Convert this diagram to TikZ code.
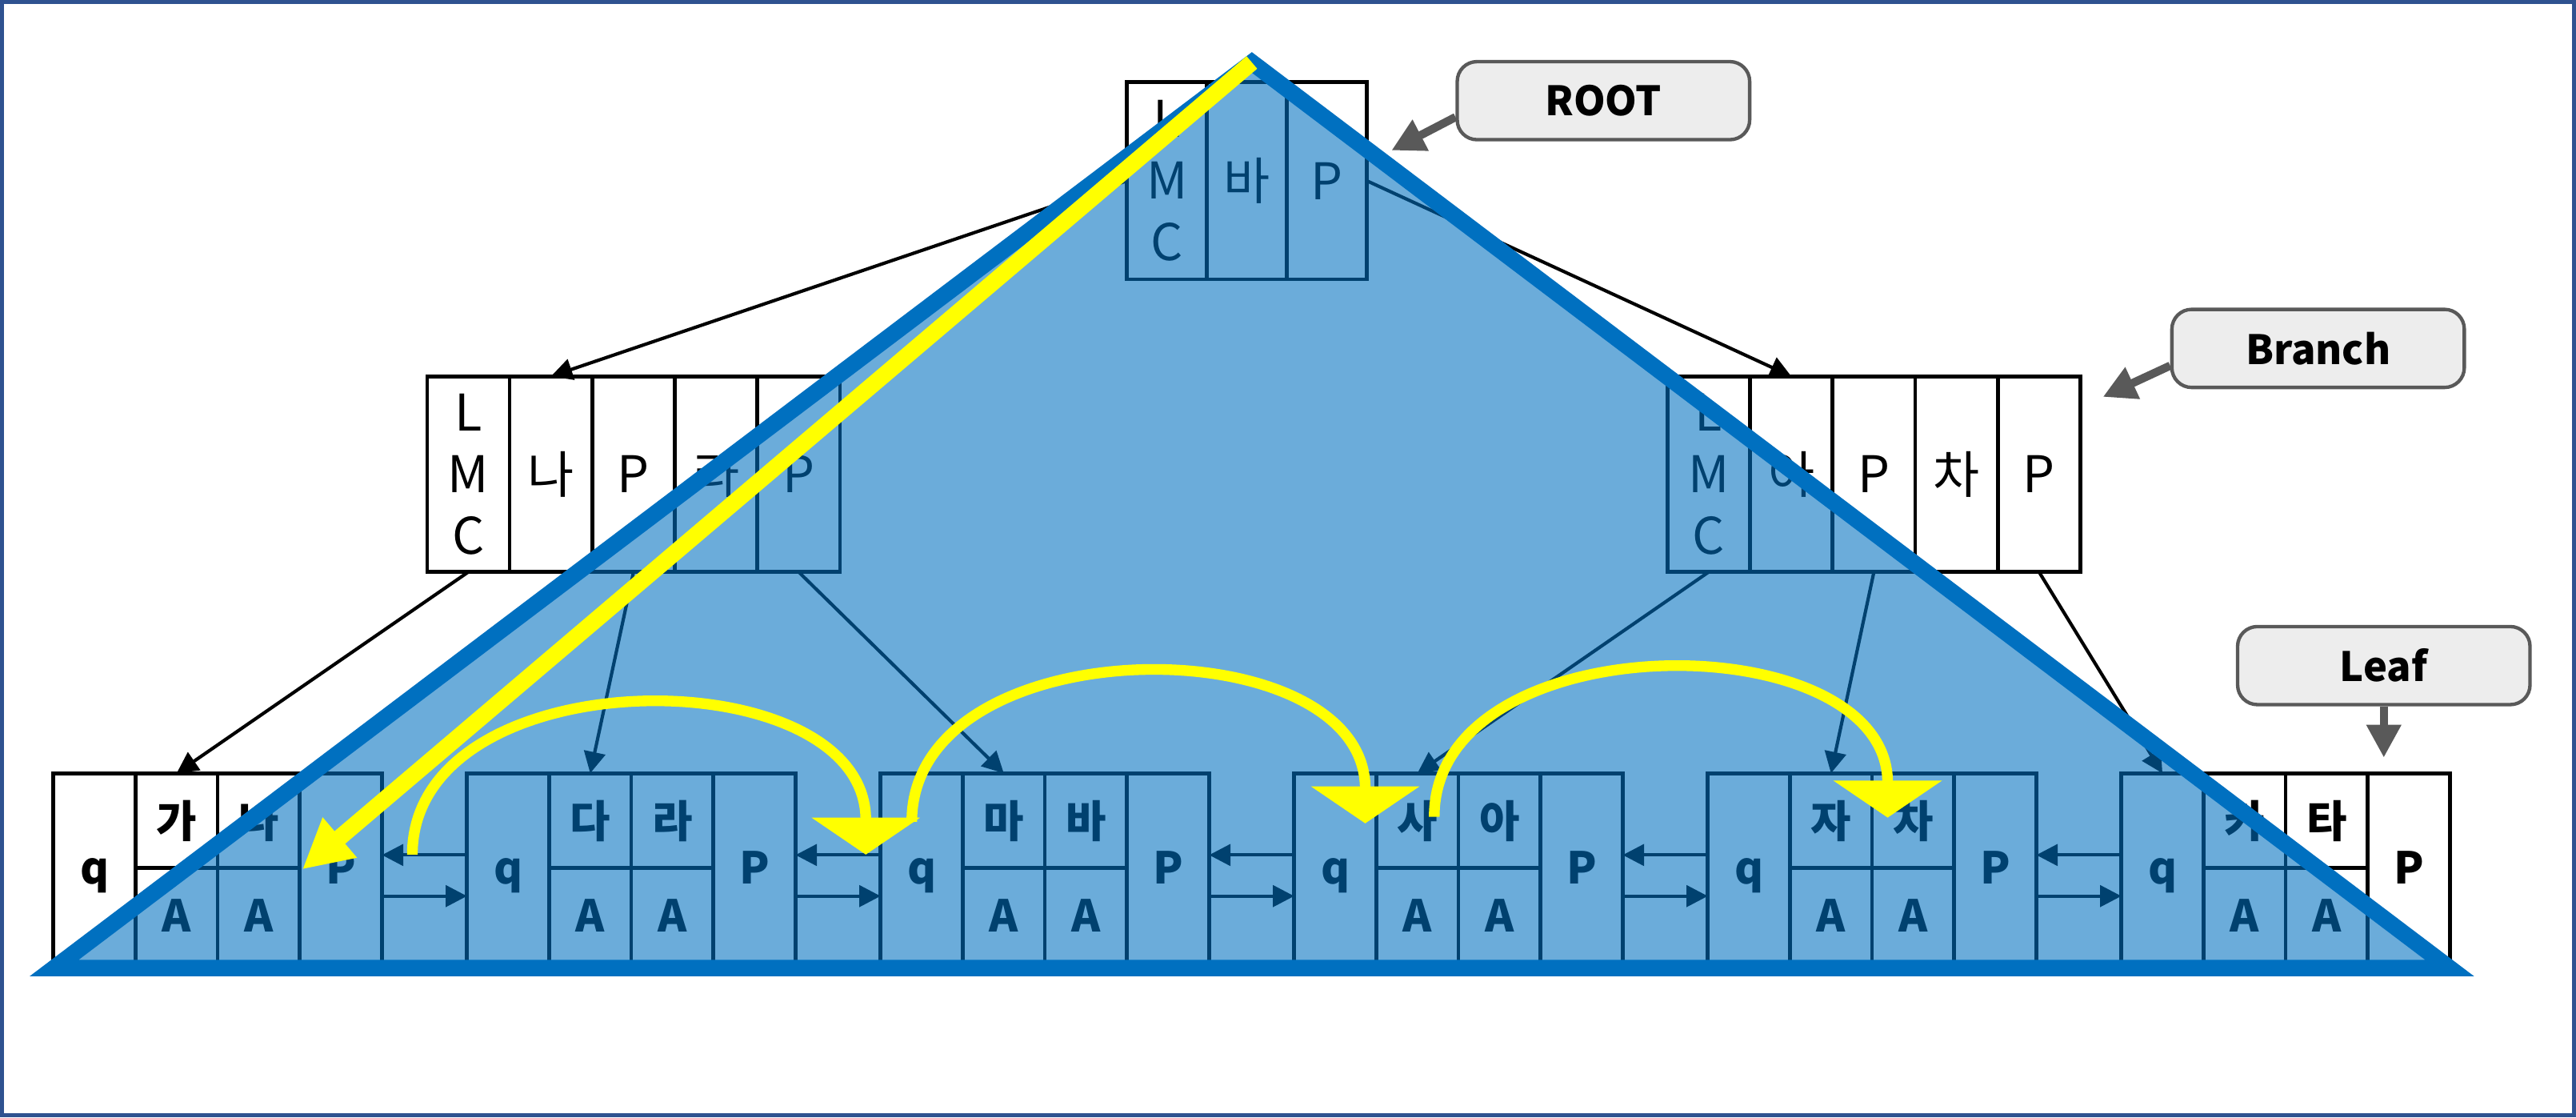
\documentclass[tikz,border=0pt]{standalone}
\usepackage{fontspec}
\setmainfont{Noto Sans CJK KR}
\usetikzlibrary{arrows.meta,positioning}
\definecolor{frameblue}{HTML}{2F5290}
\definecolor{treeblue}{HTML}{0070C0}
\definecolor{callgray}{HTML}{595959}
\definecolor{callfill}{HTML}{EDEDED}
\definecolor{hilite}{HTML}{FFFF00}

\begin{document}
\begin{tikzpicture}[
  cell/.style={draw=black,line width=1.3pt,outer sep=0pt,inner sep=0pt,minimum width=1.005cm,minimum height=2.38cm,align=center,font=\fontsize{17.5}{21.3}\selectfont},
  rootcell/.style={cell,minimum width=0.973cm,minimum height=2.4cm},
  leafbase/.style={draw=black,line width=1.3pt,outer sep=0pt,inner sep=0pt,minimum width=1cm,font=\fontsize{15.2}{17}\selectfont\bfseries},
  tallcell/.style={leafbase,minimum height=2.31cm,text height=0.39cm,text depth=0pt},
  halfcell/.style={leafbase,minimum height=1.155cm},
  link/.style={-{Triangle[width=0.26cm,length=0.26cm]},line width=1.15pt},
  callout/.style={draw=callgray,fill=callfill,line width=1.2pt,rounded corners=0.24cm,minimum width=3.56cm,minimum height=0.95cm,font=\fontsize{14}{16}\selectfont\bfseries},
  pointer/.style={-{Triangle[width=0.4cm,length=0.4cm]},line width=0.1cm,callgray},
  overlay/.style={draw=treeblue,fill=treeblue,fill opacity=0.58,line width=0.2cm},
  dive/.style={-{Triangle[width=0.6cm,length=0.6cm]},line width=0.2cm,hilite},
  scan/.style={-{Triangle[width=1.3cm,length=0.45cm]},line width=0.13cm,hilite}
]
\useasboundingbox (0,0) rectangle (31.36,-13.6);
\draw[frameblue,line width=0.05cm] (0.025,-0.025) rectangle (31.335,-13.575);

\node[rootcell,anchor=north west] (rootLMC) at (13.72,-1.0) {L\\M\\C};
\node[rootcell,right=0pt of rootLMC] (rootKey) {바};
\node[rootcell,right=0pt of rootKey] (rootP) {P};

\node[cell,anchor=north west] (lbLMC) at (5.2,-4.58) {L\\M\\C};
\node[cell,right=0pt of lbLMC] (lbK1) {나};
\node[cell,right=0pt of lbK1] (lbP1) {P};
\node[cell,right=0pt of lbP1] (lbK2) {라};
\node[cell,right=0pt of lbK2] (lbP2) {P};

\node[cell,anchor=north west] (rbLMC) at (20.3,-4.58) {L\\M\\C};
\node[cell,right=0pt of rbLMC] (rbK1) {아};
\node[cell,right=0pt of rbK1] (rbP1) {P};
\node[cell,right=0pt of rbP1] (rbK2) {차};
\node[cell,right=0pt of rbK2] (rbP2) {P};

\foreach \i/\ka/\kb in {1/가/나,2/다/라,3/마/바,4/사/아,5/자/차,6/카/타}{
  \node[tallcell,anchor=north west] (q\i) at ({0.65+(\i-1)*5.035},-9.41) {q};
  \node[halfcell,anchor=north west] (ka\i) at (q\i.north east) {\ka};
  \node[halfcell,below=0pt of ka\i] (aa\i) {A};
  \node[halfcell,right=0pt of ka\i] (kb\i) {\kb};
  \node[halfcell,below=0pt of kb\i] (ab\i) {A};
  \node[tallcell,anchor=north west] (p\i) at (kb\i.north east) {P};
}
\foreach \i [count=\j from 2] in {1,...,5}{
  \draw[link] ([yshift=1.6mm]q\j.west) -- ([yshift=1.6mm]p\i.east);
  \draw[link] ([yshift=-3.4mm]p\i.east) -- ([yshift=-3.4mm]q\j.west);
}

\draw[link] (rootLMC.west) -- (lbK1.north);
\draw[link] (rootP.east) -- (rbK1.north);
\draw[link] (lbLMC.south) -- (ka1.north);
\draw[link] (lbP1.south) -- (ka2.north);
\draw[link] (lbP2.south) -- (ka3.north);
\draw[link] (rbLMC.south) -- (ka4.north);
\draw[link] (rbP1.south) -- (ka5.north);
\draw[link] (rbP2.south) -- (q6.north);

\node[callout] (rootNote) at (19.52,-1.225) {ROOT};
\node[callout] (branchNote) at (28.22,-4.24) {Branch};
\node[callout] (leafNote) at (29.02,-8.1) {Leaf};
\coordinate (rootTip) at (16.94,-1.83);
\coordinate (branchTip) at (25.6,-4.83);
\coordinate (leafTip) at (29.02,-9.22);
\draw[pointer] ([yshift=-2mm]rootNote.west) -- (rootTip);
\draw[pointer] ([yshift=-2.1mm]branchNote.west) -- (branchTip);
\draw[pointer] (leafNote.south) -- (leafTip);

\coordinate (apex) at (15.24,-0.76);
\coordinate (baseL) at (0.66,-11.78);
\coordinate (baseR) at (29.82,-11.78);
\draw[overlay] (apex) -- (baseL) -- (baseR) -- cycle;

\coordinate (diveEnd) at (3.68,-10.58);
\coordinate (hopA) at (5.02,-10.4);
\coordinate (hopB) at (10.54,-10.4);
\coordinate (hopC) at (11.1,-10.0);
\coordinate (hopD) at (16.62,-10.02);
\coordinate (hopE) at (17.46,-9.94);
\coordinate (hopF) at (22.98,-9.95);
\draw[dive] (apex) -- (diveEnd);
\draw[scan] (hopA) .. controls +(0,2.42) and +(0,2.42) .. (hopB);
\draw[scan] (hopC) .. controls +(0,2.4) and +(0,2.42) .. (hopD);
\draw[scan] (hopE) .. controls +(0,2.38) and +(0,2.39) .. (hopF);
\end{tikzpicture}
\end{document}
